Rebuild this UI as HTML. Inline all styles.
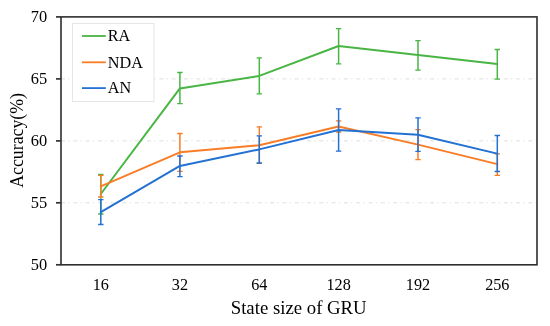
<!DOCTYPE html><html><head><meta charset="utf-8"><title>chart</title><style>html,body{margin:0;padding:0;background:#fff}svg{display:block}text{font-family:"Liberation Serif","Times New Roman",serif;fill:#000}</style></head><body>
<svg width="550" height="326" viewBox="0 0 550 326">
<rect width="550" height="326" fill="#fff"/>
<line x1="61.0" x2="537.0" y1="202.8" y2="202.8" stroke="#dedede" stroke-width="1" stroke-dasharray="4 3.3 1.2 3.8"/>
<line x1="61.0" x2="537.0" y1="140.9" y2="140.9" stroke="#dedede" stroke-width="1" stroke-dasharray="4 3.3 1.2 3.8"/>
<line x1="61.0" x2="537.0" y1="78.9" y2="78.9" stroke="#dedede" stroke-width="1" stroke-dasharray="4 3.3 1.2 3.8"/>
<rect x="72.5" y="23.5" width="81.5" height="78" fill="#fff" stroke="#e6e6e6" stroke-width="1"/>
<path d="M100.8 174.4V214.0" stroke="#49b544" stroke-width="1.5" fill="none"/><path d="M98.1 174.4h5.4M98.1 214.0h5.4" stroke="#49b544" stroke-width="1.3" fill="none"/>
<path d="M179.9 72.5V103.7" stroke="#49b544" stroke-width="1.5" fill="none"/><path d="M177.2 72.5h5.4M177.2 103.7h5.4" stroke="#49b544" stroke-width="1.3" fill="none"/>
<path d="M259.3 57.9V93.9" stroke="#49b544" stroke-width="1.5" fill="none"/><path d="M256.6 57.9h5.4M256.6 93.9h5.4" stroke="#49b544" stroke-width="1.3" fill="none"/>
<path d="M338.6 28.6V63.9" stroke="#49b544" stroke-width="1.5" fill="none"/><path d="M335.9 28.6h5.4M335.9 63.9h5.4" stroke="#49b544" stroke-width="1.3" fill="none"/>
<path d="M418.0 40.6V70.2" stroke="#49b544" stroke-width="1.5" fill="none"/><path d="M415.3 40.6h5.4M415.3 70.2h5.4" stroke="#49b544" stroke-width="1.3" fill="none"/>
<path d="M497.3 49.5V79.1" stroke="#49b544" stroke-width="1.5" fill="none"/><path d="M494.6 49.5h5.4M494.6 79.1h5.4" stroke="#49b544" stroke-width="1.3" fill="none"/>
<polyline points="100.8,194.0 179.9,88.4 259.3,75.9 338.6,46.0 418.0,55.1 497.3,64.1" fill="none" stroke="#49b544" stroke-width="2" stroke-linejoin="round" stroke-linecap="round"/>
<path d="M100.8 175.3V197.0" stroke="#f87d26" stroke-width="1.5" fill="none"/><path d="M98.1 175.3h5.4M98.1 197.0h5.4" stroke="#f87d26" stroke-width="1.3" fill="none"/>
<path d="M179.9 133.5V171.4" stroke="#f87d26" stroke-width="1.5" fill="none"/><path d="M177.2 133.5h5.4M177.2 171.4h5.4" stroke="#f87d26" stroke-width="1.3" fill="none"/>
<path d="M259.3 126.9V163.4" stroke="#f87d26" stroke-width="1.5" fill="none"/><path d="M256.6 126.9h5.4M256.6 163.4h5.4" stroke="#f87d26" stroke-width="1.3" fill="none"/>
<path d="M338.6 120.8V132.0" stroke="#f87d26" stroke-width="1.5" fill="none"/><path d="M335.9 120.8h5.4M335.9 132.0h5.4" stroke="#f87d26" stroke-width="1.3" fill="none"/>
<path d="M418.0 129.7V159.7" stroke="#f87d26" stroke-width="1.5" fill="none"/><path d="M415.3 129.7h5.4M415.3 159.7h5.4" stroke="#f87d26" stroke-width="1.3" fill="none"/>
<path d="M497.3 153.8V175.3" stroke="#f87d26" stroke-width="1.5" fill="none"/><path d="M494.6 153.8h5.4M494.6 175.3h5.4" stroke="#f87d26" stroke-width="1.3" fill="none"/>
<polyline points="100.8,186.3 179.9,152.3 259.3,145.2 338.6,126.5 418.0,144.6 497.3,164.1" fill="none" stroke="#f87d26" stroke-width="2" stroke-linejoin="round" stroke-linecap="round"/>
<path d="M100.8 199.7V224.5" stroke="#2271d3" stroke-width="1.5" fill="none"/><path d="M98.1 199.7h5.4M98.1 224.5h5.4" stroke="#2271d3" stroke-width="1.3" fill="none"/>
<path d="M179.9 156.0V176.7" stroke="#2271d3" stroke-width="1.5" fill="none"/><path d="M177.2 156.0h5.4M177.2 176.7h5.4" stroke="#2271d3" stroke-width="1.3" fill="none"/>
<path d="M259.3 135.9V163.0" stroke="#2271d3" stroke-width="1.5" fill="none"/><path d="M256.6 135.9h5.4M256.6 163.0h5.4" stroke="#2271d3" stroke-width="1.3" fill="none"/>
<path d="M338.6 108.9V151.2" stroke="#2271d3" stroke-width="1.5" fill="none"/><path d="M335.9 108.9h5.4M335.9 151.2h5.4" stroke="#2271d3" stroke-width="1.3" fill="none"/>
<path d="M418.0 117.8V151.4" stroke="#2271d3" stroke-width="1.5" fill="none"/><path d="M415.3 117.8h5.4M415.3 151.4h5.4" stroke="#2271d3" stroke-width="1.3" fill="none"/>
<path d="M497.3 135.5V171.5" stroke="#2271d3" stroke-width="1.5" fill="none"/><path d="M494.6 135.5h5.4M494.6 171.5h5.4" stroke="#2271d3" stroke-width="1.3" fill="none"/>
<polyline points="100.8,212.2 179.9,165.9 259.3,149.4 338.6,130.0 418.0,134.8 497.3,153.6" fill="none" stroke="#2271d3" stroke-width="2" stroke-linejoin="round" stroke-linecap="round"/>
<rect x="61.0" y="16.9" width="476.0" height="247.9" fill="none" stroke="#2e2e2e" stroke-width="1.6"/>
<line x1="56.0" x2="61.0" y1="264.8" y2="264.8" stroke="#333" stroke-width="1.7"/>
 <text x="47.2" y="270.3" font-size="16.4" text-anchor="end">50</text>
<line x1="56.0" x2="61.0" y1="202.8" y2="202.8" stroke="#333" stroke-width="1.7"/>
 <text x="47.2" y="208.3" font-size="16.4" text-anchor="end">55</text>
<line x1="56.0" x2="61.0" y1="140.9" y2="140.9" stroke="#333" stroke-width="1.7"/>
 <text x="47.2" y="146.4" font-size="16.4" text-anchor="end">60</text>
<line x1="56.0" x2="61.0" y1="78.9" y2="78.9" stroke="#333" stroke-width="1.7"/>
 <text x="47.2" y="84.4" font-size="16.4" text-anchor="end">65</text>
<line x1="56.0" x2="61.0" y1="16.9" y2="16.9" stroke="#333" stroke-width="1.7"/>
 <text x="47.2" y="22.4" font-size="16.4" text-anchor="end">70</text>
<text x="100.8" y="289.6" font-size="16.2" text-anchor="middle">16</text>
<text x="179.9" y="289.6" font-size="16.2" text-anchor="middle">32</text>
<text x="259.3" y="289.6" font-size="16.2" text-anchor="middle">64</text>
<text x="338.6" y="289.6" font-size="16.2" text-anchor="middle">128</text>
<text x="418.0" y="289.6" font-size="16.2" text-anchor="middle">192</text>
<text x="497.3" y="289.6" font-size="16.2" text-anchor="middle">256</text>
<text x="298.7" y="314" font-size="18.75" text-anchor="middle">State size of GRU</text>
<text transform="translate(22.8,140.4) rotate(-90)" font-size="17.8" text-anchor="middle">Accuracy(%)</text>
<line x1="82" x2="105.8" y1="36" y2="36" stroke="#49b544" stroke-width="1.8"/>
<text x="107.8" y="41.3" font-size="16.2">RA</text>
<line x1="82" x2="105.8" y1="62.3" y2="62.3" stroke="#f87d26" stroke-width="1.8"/>
<text x="107.8" y="67.6" font-size="16.2">NDA</text>
<line x1="82" x2="105.8" y1="88.1" y2="88.1" stroke="#2271d3" stroke-width="1.8"/>
<text x="107.8" y="93.4" font-size="16.2">AN</text>
</svg></body></html>
